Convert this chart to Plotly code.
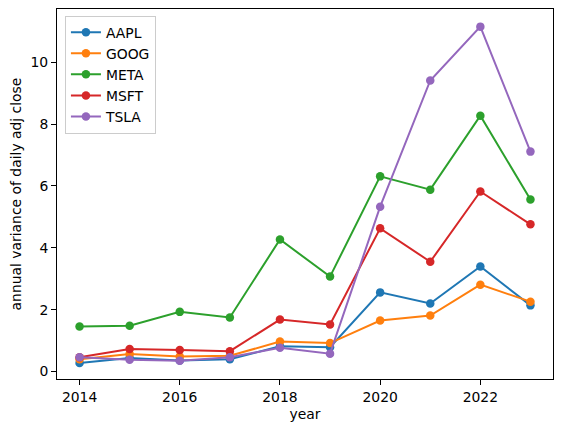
import plotly.graph_objects as go

# annual variance of daily adjusted close, per ticker
years = [2014, 2015, 2016, 2017, 2018, 2019, 2020, 2021, 2022, 2023]
aapl = [0.28, 0.44, 0.36, 0.40, 0.82, 0.79, 2.56, 2.20, 3.40, 2.14]
goog = [0.40, 0.57, 0.49, 0.51, 0.97, 0.92, 1.65, 1.81, 2.81, 2.26]
meta = [1.46, 1.48, 1.93, 1.75, 4.27, 3.07, 6.31, 5.88, 8.27, 5.56]
msft = [0.46, 0.73, 0.70, 0.66, 1.68, 1.52, 4.63, 3.55, 5.82, 4.76]
tsla = [0.46, 0.38, 0.35, 0.46, 0.77, 0.58, 5.33, 9.41, 11.15, 7.11]

series = [
    ("AAPL", aapl, "#1f77b4"),
    ("GOOG", goog, "#ff7f0e"),
    ("META", meta, "#2ca02c"),
    ("MSFT", msft, "#d62728"),
    ("TSLA", tsla, "#9467bd"),
]

fig = go.Figure()
for name, vals, color in series:
    fig.add_trace(go.Scatter(
        x=years, y=vals, name=name, mode="lines+markers",
        line=dict(color=color, width=2),
        marker=dict(color=color, size=8.5),
    ))

axis_style = dict(
    showgrid=False, zeroline=False, showline=True, linecolor="black",
    linewidth=1, mirror=True, ticks="outside", ticklen=5,
    tickcolor="black", tickfont=dict(size=13.9, color="black"),
    automargin=False,
)

# page body has an 8px margin, so the figure is sized to fit the window
fig.update_layout(
    width=555, height=424,
    margin=dict(l=49, r=10, t=1, b=53),
    plot_bgcolor="white", paper_bgcolor="white",
    font=dict(family="DejaVu Sans", size=13.9, color="black"),
    legend=dict(
        x=0.016, y=0.982, xanchor="left", yanchor="top",
        bgcolor="rgba(255,255,255,0.8)", bordercolor="#cccccc",
        borderwidth=1, font=dict(size=13.9),
    ),
)
fig.update_xaxes(
    title=dict(text="year", font=dict(size=13.9), standoff=5),
    range=[2013.55, 2023.45], tickvals=[2014, 2016, 2018, 2020, 2022],
    **axis_style,
)
fig.update_yaxes(
    title=dict(text="annual variance of daily adj close", font=dict(size=13.9), standoff=5),
    range=[-0.24, 11.72], tickvals=[0, 2, 4, 6, 8, 10],
    **axis_style,
)

fig.write_html("out.html")
